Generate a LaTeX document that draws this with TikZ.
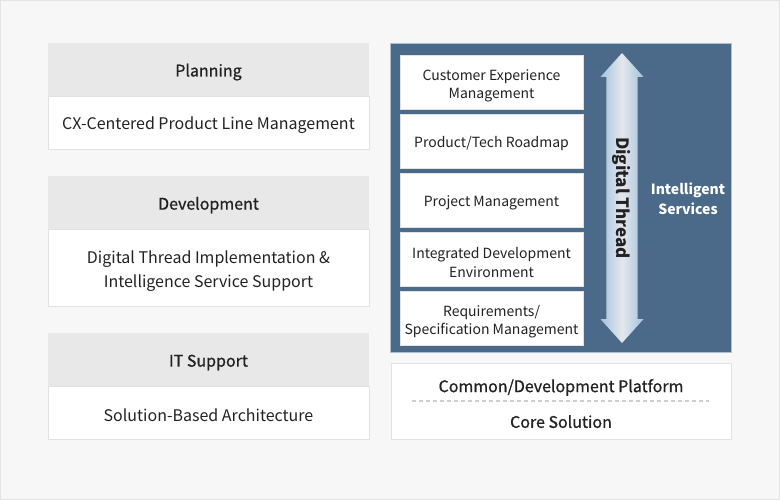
\documentclass[tikz,border=0pt]{standalone}
\usepackage{fontspec}
\setmainfont{Noto Sans CJK KR}
\newfontfamily\mediumfont{Noto Sans CJK KR}[FakeBold=0.8]
\usetikzlibrary{positioning, shapes.arrows}

\definecolor{pagebg}{HTML}{F7F7F7}
\definecolor{pageline}{HTML}{E4E4E4}
\definecolor{headgray}{HTML}{E8E8E8}
\definecolor{boxline}{HTML}{E2E2E2}
\definecolor{panelblue}{HTML}{4B6A89}
\definecolor{panelline}{HTML}{A9C0D6}
\definecolor{arrowend}{HTML}{A6C2DB}
\definecolor{arrowmid}{HTML}{E3E7ED}
\definecolor{inktext}{HTML}{222222}

% lifts the first line so the text sits at the box middle
\newcommand{\toplift}{\rule{0pt}{1.12em}}
\newcommand{\twolift}{\rule{0pt}{1.3em}}

\begin{document}
\begin{tikzpicture}[
	x=1pt, y=-1pt,
	node distance=0pt and 0pt,
	head/.style={
		rectangle,
		fill=headgray,
		minimum width=321pt,
		minimum height=53pt,
		inner sep=0pt,
		outer sep=0pt,
		text=inktext,
		execute at begin node=\toplift,
		font=\fontsize{16}{20}\mediumfont
	},
	body/.style={
		rectangle,
		draw=boxline,
		fill=white,
		minimum width=321pt,
		minimum height=53pt,
		inner sep=0pt,
		outer sep=0pt,
		align=center,
		text=inktext,
		font=\fontsize{16}{24}\selectfont
	},
	item/.style={
		rectangle,
		draw=boxline,
		fill=white,
		minimum width=183pt,
		minimum height=54pt,
		inner sep=0pt,
		outer sep=0pt,
		align=center,
		text=inktext,
		font=\fontsize{14}{18.5}\selectfont
	},
	thread/.style={
		double arrow,
		double arrow tip angle=84,
		double arrow head extend=3.5pt,
		minimum height=290pt,
		minimum width=43pt,
		inner sep=0pt,
		left color=arrowend,
		right color=arrowend,
		middle color=arrowmid,
		text=inktext,
		font=\fontsize{17}{20}\selectfont\bfseries
	},
	platform/.style={
		text=inktext,
		inner sep=0pt,
		execute at begin node=\toplift,
		font=\fontsize{16}{20}\mediumfont
	}
]

	% page
	\useasboundingbox (0,0) rectangle (780,500);
	\draw[pageline, fill=pagebg, line width=2pt] (0,0) rectangle (780,500);

	% left column
	\node[head] (plan) at (208.5,69.5) {Planning};
	\node[body, below=of plan] (planbody) {\toplift CX-Centered Product Line Management};

	\node[head] (dev) at (208.5,202.5) {Development};
	\node[body, below=of dev, minimum height=77pt] (devbody) {\twolift Digital Thread Implementation \&\\Intelligence Service Support};

	\node[head] (itsup) at (208.5,359.5) {IT Support};
	\node[body, below=of itsup] (itbody) {\toplift Solution-Based Architecture};

	% right column
	\node[rectangle, draw=panelline, fill=panelblue, minimum width=341pt, minimum height=309pt, inner sep=0pt] (panel) at (560.5,197.5) {};

	\node[item] (cxm) at (491.5,82) {\twolift Customer Experience\\Management};
	\node[item, below=5pt of cxm] (roadmap) {\toplift Product/Tech Roadmap};
	\node[item, below=5pt of roadmap] (project) {\toplift Project Management};
	\node[item, below=5pt of project] (ide) {\twolift Integrated Development\\Environment};
	\node[item, below=5pt of ide] (reqspec) {\twolift Requirements/\\Specification Management};

	\node[thread, rotate=-90] (digital) at (622,198) {Digital Thread};

	\node[align=center, text=white, font=\fontsize{14}{20}\selectfont\bfseries] (intel) at (688,199) {Intelligent\\Services};

	\node[rectangle, draw=boxline, fill=white, minimum width=340pt, minimum height=76pt, inner sep=0pt] (base) at (561,401) {};
	\node[platform] (common) at (561,385) {Common/Development Platform};
	\node[platform] (core) at (561,419) {Core Solution};
	\draw[boxline!80!gray, line width=1.5pt, dash pattern=on 4pt off 3pt] (412,401) -- (709,401);

\end{tikzpicture}
\end{document}
